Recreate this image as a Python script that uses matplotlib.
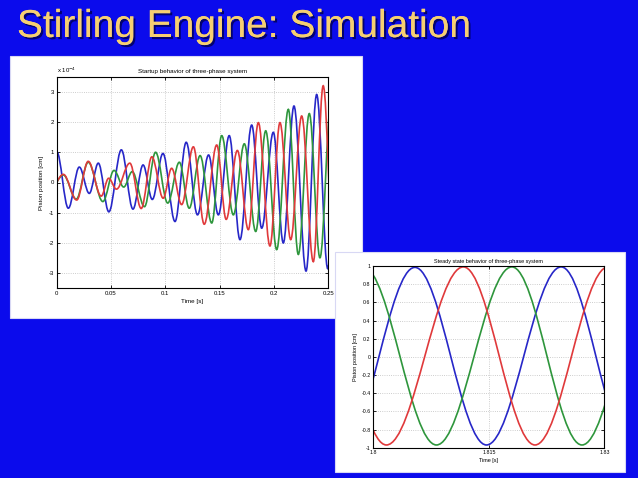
import matplotlib

matplotlib.use("Agg")
import matplotlib.pyplot as plt
from matplotlib import patheffects
from matplotlib.patches import PathPatch, Rectangle
from matplotlib.path import Path

plt.rcParams["font.family"] = ["Liberation Sans", "DejaVu Sans"]

# startup run: peaks and troughs (time [s], position [1e-4 cm])
startup_blue_t = [0.0, 0.0107, 0.0208, 0.0300, 0.0383, 0.0480, 0.0595, 0.0702, 0.0795, 0.0880,
                  0.0978, 0.1089, 0.1192, 0.1296, 0.1398, 0.1488, 0.1588, 0.1687, 0.1795, 0.1887,
                  0.1994, 0.2086, 0.2184, 0.2295, 0.2393, 0.2495, 0.2595]
startup_blue_y = [1.02, -0.85, 0.51, -0.36, 0.64, -0.97, 1.08, -0.88, 0.58, -0.56,
                  0.96, -1.29, 1.33, -1.07, 0.91, -1.07, 1.55, -1.89, 1.90, -1.51,
                  1.66, -2.00, 2.53, -2.93, 2.91, -2.85, 3.00]

startup_green_t = [-0.0061, 0.0061, 0.0180, 0.0290, 0.0425, 0.0528, 0.0617, 0.0695, 0.0808, 0.0910,
                   0.1022, 0.1129, 0.1220, 0.1320, 0.1427, 0.1519, 0.1626, 0.1727, 0.1832, 0.1924,
                   0.2025, 0.2132, 0.2224, 0.2325, 0.2423, 0.2525]
startup_green_y = [-0.25, 0.25, -0.55, 0.67, -0.63, 0.40, -0.15, 0.36, -0.80, 1.00,
                   -0.68, 0.67, -0.85, 0.89, -1.34, 1.55, -1.07, 1.28, -1.62, 1.71,
                   -2.22, 2.42, -2.38, 2.28, -2.49, 2.60]

startup_red_t = [-0.0061, 0.0061, 0.0184, 0.0290, 0.0410, 0.0478, 0.0550, 0.0673, 0.0778, 0.0876,
                 0.0980, 0.1058, 0.1150, 0.1258, 0.1358, 0.1473, 0.1560, 0.1663, 0.1764, 0.1856,
                 0.1963, 0.2055, 0.2154, 0.2255, 0.2362, 0.2453, 0.2555]
startup_red_y = [-0.27, 0.27, -0.58, 0.70, -0.45, 0.14, -0.22, 0.64, -0.86, 0.85,
                 -0.52, 0.47, -0.73, 1.18, -1.38, 1.24, -1.22, 1.06, -1.56, 1.98,
                 -2.10, 1.98, -1.89, 2.20, -2.62, 3.20, -3.00]

# steady state run: peaks and troughs (time [s], position [cm])
steady_blue_t = [1.7961, 1.8054, 1.8147, 1.8244, 1.8334]
steady_blue_y = [-0.97, 0.985, -0.97, 0.99, -0.97]
steady_green_t = [1.7987, 1.8082, 1.8180, 1.8271, 1.8366]
steady_green_y = [0.99, -0.97, 0.99, -0.97, 0.99]
steady_red_t = [1.7924, 1.8017, 1.8117, 1.8210, 1.8305]
steady_red_y = [0.99, -0.97, 0.99, -0.97, 0.99]

startup_xticks = [0, 0.05, 0.1, 0.15, 0.2, 0.25]
startup_xticklabels = ["0", "0.05", "0.1", "0.15", "0.2", "0.25"]
startup_yticks = [-3, -2, -1, 0, 1, 2, 3]
startup_yticklabels = ["-3", "-2", "-1", "0", "1", "2", "3"]

steady_xticks = [1.8, 1.815, 1.83]
steady_xticklabels = ["1.8", "1.815", "1.83"]
steady_yticks = [-1, -0.8, -0.6, -0.4, -0.2, 0, 0.2, 0.4, 0.6, 0.8, 1]
steady_yticklabels = ["-1", "-0.8", "-0.6", "-0.4", "-0.2", "0", "0.2", "0.4", "0.6", "0.8", "1"]

BLUE = "#2727c8"
GREEN = "#2e963c"
RED = "#e0393b"
SLIDE_BLUE = "#0b0bec"

W, H = 638, 478


def _fig_rect(left_px, top_px, right_px, bottom_px):
    return [left_px / W, 1 - bottom_px / H, (right_px - left_px) / W, (bottom_px - top_px) / H]


def _smooth_trace(ax, ts, ys, color, k=0.36):
    # cubic segments with flat tangents at each peak / trough
    verts = [(ts[0], ys[0])]
    codes = [Path.MOVETO]
    for i in range(len(ts) - 1):
        dt = ts[i + 1] - ts[i]
        verts += [(ts[i] + k * dt, ys[i]), (ts[i + 1] - k * dt, ys[i + 1]), (ts[i + 1], ys[i + 1])]
        codes += [Path.CURVE4] * 3
    ax.add_patch(PathPatch(Path(verts, codes), fill=False, edgecolor=color, linewidth=1.2))


def _matlab_axes(ax, xticks, xlabels, yticks, ylabels, fs):
    ax.set_xticks(xticks)
    ax.set_xticklabels(xlabels)
    ax.set_yticks(yticks)
    ax.set_yticklabels(ylabels)
    ax.tick_params(direction="in", top=True, right=True, labelsize=fs, length=2.5, width=0.6, pad=2)
    ax.grid(True, linestyle=":", color="#bdbdbd", linewidth=0.6)
    for spine in ax.spines.values():
        spine.set_linewidth(0.8)
    ax.set_axisbelow(True)


fig = plt.figure(figsize=(W / 100, H / 100), dpi=100, facecolor=SLIDE_BLUE)

# white picture frames on the slide
fig.add_artist(Rectangle((10 / W, 1 - 318 / H), 352 / W, 262 / H, transform=fig.transFigure,
                         facecolor="white", edgecolor="#d8d8f4", linewidth=0.8))
fig.add_artist(Rectangle((335 / W, 1 - 472 / H), 290 / W, 220 / H, transform=fig.transFigure,
                         facecolor="white", edgecolor="#d8d8f4", linewidth=0.8, zorder=1.5))

title = fig.text(17 / W, 1 - 37 / H, "Stirling Engine: Simulation", fontsize=28, color="#f6cf72",
                 ha="left", va="baseline")
title.set_path_effects([patheffects.withSimplePatchShadow(offset=(1.5, -1.5), shadow_rgbFace="#000050",
                                                          alpha=0.8), patheffects.Normal()])

# startup chart
ax1 = fig.add_axes(_fig_rect(56.7, 76.7, 328.3, 288.3))
ax1.set_zorder(2)
for ts, ys, c in [(startup_blue_t, startup_blue_y, BLUE), (startup_green_t, startup_green_y, GREEN),
                  (startup_red_t, startup_red_y, RED)]:
    _smooth_trace(ax1, ts, ys, c)
ax1.set_xlim(0, 0.25)
ax1.set_ylim(-3.5, 3.5)
_matlab_axes(ax1, startup_xticks, startup_xticklabels, startup_yticks, startup_yticklabels, 4.3)
ax1.set_title("Startup behavior of three-phase system", fontsize=4.5, pad=3)
ax1.set_xlabel("Time [s]", fontsize=4.5, labelpad=2)
ax1.set_ylabel("Piston position [cm]", fontsize=4.5, labelpad=3)
ax1.text(0, 1.01, r"x 10$^{-4}$", transform=ax1.transAxes, fontsize=4.3, ha="left", va="bottom")

# steady state chart
ax2 = fig.add_axes(_fig_rect(373.3, 266, 604.3, 447.7))
ax2.set_zorder(3)
for ts, ys, c in [(steady_blue_t, steady_blue_y, BLUE), (steady_green_t, steady_green_y, GREEN),
                  (steady_red_t, steady_red_y, RED)]:
    _smooth_trace(ax2, ts, ys, c)
ax2.set_xlim(1.8, 1.83)
ax2.set_ylim(-1, 1)
_matlab_axes(ax2, steady_xticks, steady_xticklabels, steady_yticks, steady_yticklabels, 3.8)
ax2.set_title("Steady state behavior of three-phase system", fontsize=4.0, pad=2)
ax2.set_xlabel("Time [s]", fontsize=4.0, labelpad=1.5)
ax2.set_ylabel("Piston position [cm]", fontsize=4.0, labelpad=2)

fig.savefig("out.png", dpi=100, facecolor=SLIDE_BLUE)
